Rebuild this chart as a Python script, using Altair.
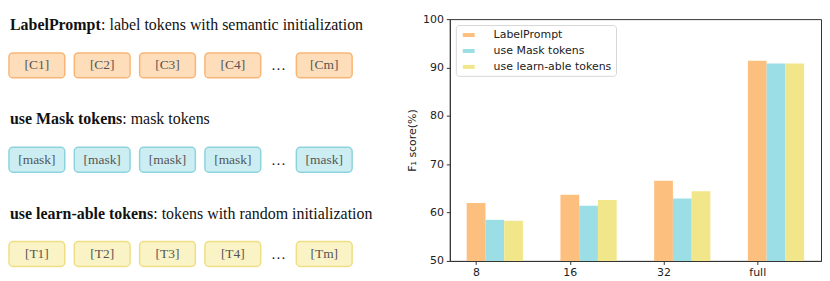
import json
import altair as alt
import pandas as pd

# ---------------- data ----------------
groups = ["8", "16", "32", "full"]
series = ["LabelPrompt", "use Mask tokens", "use learn-able tokens"]
labelprompt = [62.0, 63.7, 66.6, 91.4]
mask_tokens = [58.5, 61.4, 62.9, 90.8]
learnable = [58.3, 62.6, 64.4, 90.8]

row_bold = ["LabelPrompt", "use Mask tokens", "use learn-able tokens"]
row_rest = [": label tokens with semantic initialization",
            ": mask tokens",
            ": tokens with random initialization"]
row_tokens = [["[C1]", "[C2]", "[C3]", "[C4]", "[Cm]"],
              ["[mask]", "[mask]", "[mask]", "[mask]", "[mask]"],
              ["[T1]", "[T2]", "[T3]", "[T4]", "[Tm]"]]

# ---------------- styles ----------------
bar_colors = ["#FDBF7E", "#9BDEE5", "#F2E68A"]
box_fill = ["#FDDDBA", "#CCEEF2", "#FAF3C6"]
box_stroke = ["#F8B676", "#8DD3DC", "#EFDF84"]
SERIF = "Liberation Serif"
SANS = "DejaVu Sans"
TITLE_SIZE = 16

# advance widths (1/1000 em) of Times/Liberation Serif Bold, to place the
# regular part of each heading right after its bold part
BOLD_W = {" ": 250, "-": 333, "L": 667, "M": 944, "P": 611, "a": 500, "b": 556,
          "e": 444, "k": 556, "l": 278, "m": 833, "n": 556, "o": 500, "p": 556,
          "r": 444, "s": 389, "t": 333, "u": 556}


def bold_width(s):
    return sum(BOLD_W.get(ch, 500) for ch in s) / 1000 * TITLE_SIZE


# ---------------- left diagram ----------------
tok_rows = []
for r, toks in enumerate(row_tokens):
    for i, t in enumerate(toks):
        tok_rows.append({"row": r, "slot": i, "label": t})
tok_df = pd.DataFrame(tok_rows)

title_df = pd.DataFrame({"row": [0, 1, 2], "bold": row_bold, "rest": row_rest,
                         "px": [2 + bold_width(b) for b in row_bold]})

xs = alt.Scale(domain=[-0.442, 5.5], nice=False, zero=False)
ys = alt.Scale(domain=[-0.491, 2.306], nice=False, zero=False, reverse=True)

tok_base = alt.Chart(tok_df).transform_calculate(
    pos="datum.slot < 4 ? datum.slot : datum.slot + 0.4",
    x0="datum.pos - 0.427", x1="datum.pos + 0.427",
    y0="datum.row - 0.132", y1="datum.row + 0.132",
)

boxes = tok_base.mark_rect(cornerRadius=4, strokeWidth=1.5).encode(
    x=alt.X("x0:Q", scale=xs, axis=None),
    x2="x1:Q",
    y=alt.Y("y0:Q", scale=ys, axis=None),
    y2="y1:Q",
    fill=alt.Fill("row:O", scale=alt.Scale(domain=[0, 1, 2], range=box_fill), legend=None),
    stroke=alt.Stroke("row:O", scale=alt.Scale(domain=[0, 1, 2], range=box_stroke), legend=None),
)

tok_text = tok_base.mark_text(font=SERIF, fontSize=13.5, color="#555555", baseline="middle").encode(
    x=alt.X("pos:Q", scale=xs, axis=None),
    y=alt.Y("row:Q", scale=ys, axis=None),
    text="label:N",
)

ellipsis = alt.Chart(title_df).transform_calculate(pos="(3 + 4.4) / 2").mark_text(
    font=SERIF, fontSize=15, color="#222222", baseline="middle").encode(
    x=alt.X("pos:Q", scale=xs, axis=None),
    y=alt.Y("row:Q", scale=ys, axis=None),
    text=alt.value("…"),
)

titles_bold = alt.Chart(title_df).mark_text(
    font=SERIF, fontSize=TITLE_SIZE, fontWeight="bold", color="#111111",
    align="left", baseline="middle", dy=-40.5).encode(
    x=alt.value(2),
    y=alt.Y("row:Q", scale=ys, axis=None),
    text="bold:N",
)

titles_rest = alt.Chart(title_df).mark_text(
    font=SERIF, fontSize=TITLE_SIZE, color="#111111",
    align="left", baseline="middle", dy=-40.5).encode(
    x=alt.X("px:Q", scale=None),
    y=alt.Y("row:Q", scale=ys, axis=None),
    text="rest:N",
)

left = alt.layer(boxes, tok_text, ellipsis, titles_bold, titles_rest).properties(
    width=390, height=265)

# ---------------- right bar chart ----------------
vals = [labelprompt, mask_tokens, learnable]
bar_rows = []
for si, s in enumerate(series):
    for gi, g in enumerate(groups):
        bar_rows.append({"gi": gi, "si": si, "series": s, "group": g, "value": vals[si][gi]})
bar_df = pd.DataFrame(bar_rows)

label_expr = json.dumps(groups) + "[datum.value]"

bars = alt.Chart(bar_df).transform_calculate(
    c="datum.gi + 0.2 * datum.si",
    xa="datum.c - 0.1", xb="datum.c + 0.1",
).mark_bar(opacity=1).encode(
    x=alt.X("xa:Q", scale=alt.Scale(domain=[-0.28, 3.68], nice=False, zero=False),
            axis=alt.Axis(values=[0, 1, 2, 3], labelExpr=label_expr, title=None, grid=False,
                          tickSize=3.5, tickColor="#333333", domainColor="#333333",
                          labelFont=SANS, labelFontSize=11, labelColor="#222222",
                          labelPadding=2)),
    x2="xb:Q",
    y=alt.Y("value:Q", scale=alt.Scale(domain=[50, 100], nice=False, zero=False),
            axis=alt.Axis(values=[50, 60, 70, 80, 90, 100], title="F₁ score(%)", grid=False,
                          tickSize=3.5, tickColor="#333333", domainColor="#333333",
                          labelFont=SANS, labelFontSize=11, labelColor="#222222",
                          labelPadding=3, titleFont=SANS, titleFontSize=11,
                          titleFontWeight="normal", titleColor="#222222", titlePadding=5)),
    y2=alt.datum(50),
    color=alt.Color("series:N", sort=series,
                    scale=alt.Scale(domain=series, range=bar_colors),
                    legend=alt.Legend(title=None, orient="top-left", offset=6, padding=4,
                                      strokeColor="#d6d6d6", cornerRadius=3, fillColor="white",
                                      symbolType="M-0.5,-0.333H1.5V0.333H-0.5Z", symbolSize=144,
                                      symbolStrokeWidth=0, symbolOpacity=1,
                                      labelFont=SANS, labelFontSize=11, labelColor="#222222",
                                      labelOffset=22, rowPadding=5)),
)

right = alt.layer(bars).properties(width=373, height=243,
                                   view=alt.ViewBackground(stroke="#333333"))

chart = (
    alt.hconcat(left, right, spacing=10)
    .resolve_scale(color="independent")
    .resolve_legend(color="independent")
    .properties(padding={"top": 3.5, "left": 0, "right": 0, "bottom": 0})
    .configure_view(stroke=None)
)

chart.save("out.html", embed_options={"renderer": "svg", "actions": False})
